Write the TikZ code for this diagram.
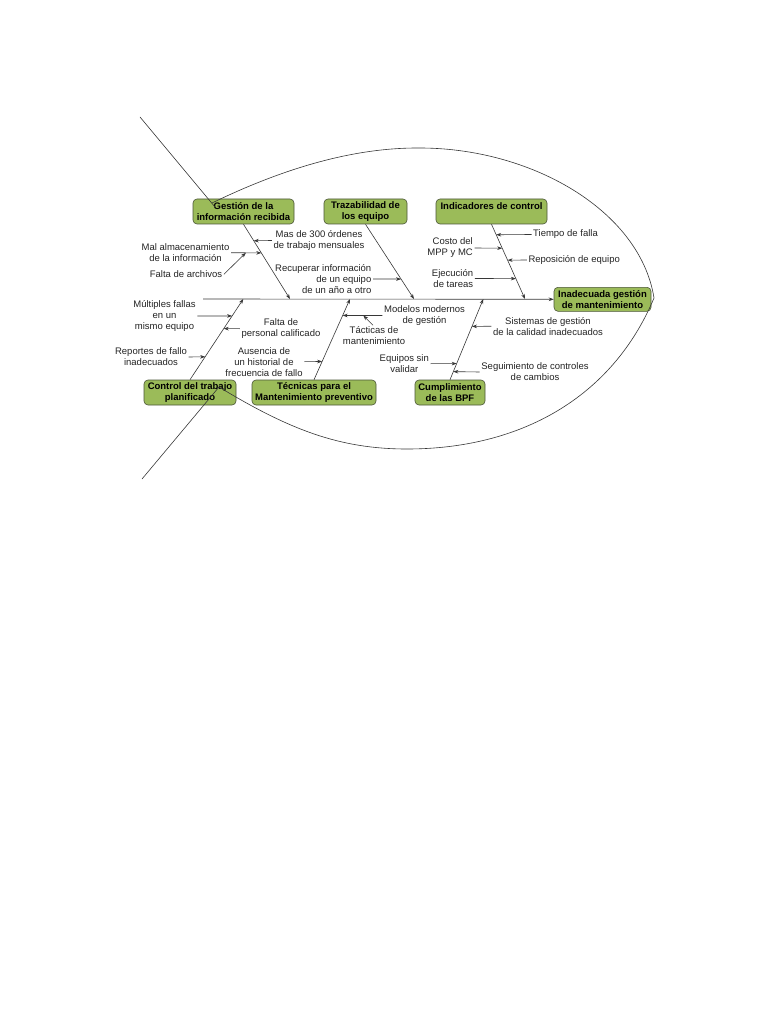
\documentclass[tikz,border=0pt]{standalone}
\usepackage{fontspec}
\setmainfont{Liberation Sans}
\usetikzlibrary{arrows.meta,calc}
\definecolor{boxfill}{RGB}{155,187,89}
\definecolor{boxdraw}{RGB}{75,85,55}
\definecolor{ln}{RGB}{55,55,55}
\definecolor{txt}{RGB}{35,35,35}
\begin{document}
\begin{tikzpicture}[x=1pt,y=-1pt,
  cause/.style={draw=boxdraw, fill=boxfill, rounded corners=4pt, line width=0.6pt,
    font=\bfseries\fontsize{9.5}{11}\selectfont, align=center, inner sep=0pt,
    minimum height=25pt, text=black},
  lbl/.style={font=\fontsize{9.5}{11}\selectfont, inner sep=1.5pt, text=txt},
  bone/.style={draw=ln, line width=0.6pt},
  arr/.style={draw=ln, line width=0.6pt, -{Stealth[length=5pt,width=3.6pt]}},
]
\useasboundingbox (0,0) rectangle (768,1024);

% cause boxes
\node[cause, minimum width=101pt] (gest) at (243.5,211.5) {Gestión de la\\información recibida};
\node[cause, minimum width=83pt] (traz) at (365.5,211.5) {Trazabilidad de\\los equipo};
\node[cause, minimum width=111pt] (indi) at (491.5,211.5) {Indicadores de control\\\mbox{}};
\node[cause, minimum width=97pt, minimum height=24pt] (head) at (602.5,299.3) {Inadecuada gestión\\de mantenimiento};
\node[cause, minimum width=92pt] (ctrl) at (190,392.5) {Control del trabajo\\planificado};
\node[cause, minimum width=124pt] (tecn) at (314,392.5) {Técnicas para el\\Mantenimiento preventivo};
\node[cause, minimum width=70pt] (cump) at (450,392.5) {Cumplimiento\\de las BPF};

% fish outline and tail
\coordinate (tailA) at (140,117);
\coordinate (tailB) at (215,207);
\coordinate (tailC) at (142,479);
\coordinate (tailD) at (219,387);
\coordinate (topS) at (212,203);
\coordinate (topM) at (417,148);
\coordinate (tip) at (654,298);
\coordinate (botM) at (407,449);
\draw[bone] (tailA) -- (tailB);
\draw[bone] (tailC) -- (tailD);
\draw[bone] (topS) .. controls (280,170) and (350,148) .. (topM)
  .. controls (530,147) and (640,210) .. (tip);
\draw[bone] (tailD) .. controls (290,430) and (340,449) .. (botM)
  .. controls (520,449) and (612,398) .. (tip);

% spine
\coordinate (spine0) at (203,299);
\draw[arr] (spine0) -- (head.west);

% points on the spine
\coordinate (s1) at (290,299);
\coordinate (s2) at (414,299);
\coordinate (s3) at (525,299);
\coordinate (s4) at (243.3,299);
\coordinate (s5) at (350,299);
\coordinate (s6) at (483.3,299);

% main bones
\draw[arr] (gest.south) -- (s1);
\draw[arr] (traz.south) -- (s2);
\draw[arr] (indi.south) -- (s3);
\draw[arr] (ctrl.north) -- (s4);
\draw[arr] (tecn.north) -- (s5);
\draw[arr] (cump.north) -- (s6);

% points on the bones
\coordinate (g1) at ($(gest.south)!0.22!(s1)$);
\coordinate (g2) at ($(gest.south)!0.383!(s1)$);
\coordinate (r1) at ($(traz.south)!0.733!(s2)$);
\coordinate (i1) at ($(indi.south)!0.14!(s3)$);
\coordinate (i2) at ($(indi.south)!0.32!(s3)$);
\coordinate (i3) at ($(indi.south)!0.48!(s3)$);
\coordinate (i4) at ($(indi.south)!0.727!(s3)$);
\coordinate (c1) at ($(ctrl.north)!0.79!(s4)$);
\coordinate (c2) at ($(ctrl.north)!0.633!(s4)$);
\coordinate (c3) at ($(ctrl.north)!0.284!(s4)$);
\coordinate (t1) at ($(tecn.north)!0.226!(s5)$);
\coordinate (t2) at ($(tecn.north)!0.796!(s5)$);
\coordinate (k1) at ($(cump.north)!0.66!(s6)$);
\coordinate (k2) at ($(cump.north)!0.2!(s6)$);
\coordinate (k3) at ($(cump.north)!0.1!(s6)$);

% labels
\node[lbl, align=center] (m300) at (319,240.5) {Mas de 300 órdenes\\de trabajo mensuales};
\node[lbl, align=center] (malalm) at (185.5,252.7) {Mal almacenamiento\\de la información};
\node[lbl] (faltaa) at (186,274.3) {Falta de archivos};
\node[lbl, align=right, anchor=east] (recup) at (373,279) {Recuperar información\\de un equipo\\de un año a otro};
\node[lbl, anchor=west] (tiempo) at (531.5,234.5) {Tiempo de falla};
\node[lbl, align=right, anchor=east] (costo) at (474.5,248) {Costo del\\MPP y MC};
\node[lbl, anchor=west] (repos) at (526.8,260) {Reposición de equipo};
\node[lbl, align=right, anchor=east] (ejec) at (474.8,278.5) {Ejecución\\de tareas};

\node[lbl, align=center] (multi) at (164.5,316) {Múltiples fallas\\en un\\mismo equipo};
\node[lbl, align=center] (faltap) at (281,328.7) {Falta de\\personal calificado};
\node[lbl, align=center] (report) at (151,357) {Reportes de fallo\\inadecuados};
\node[lbl, align=center] (ausen) at (264,361.7) {Ausencia de\\un historial de\\frecuencia de fallo};
\node[lbl, align=center] (model) at (424.5,315.5) {Modelos modernos\\de gestión};
\node[lbl, align=center] (tact) at (374,336) {Tácticas de\\mantenimiento};
\node[lbl, align=center] (sist) at (548,326.2) {Sistemas de gestión\\de la calidad inadecuados};
\node[lbl, align=center] (equip) at (404.3,363.7) {Equipos sin\\validar};
\node[lbl, align=center] (segui) at (535,372) {Seguimiento de controles\\de cambios};

% sub-cause arrows
\draw[arr] (m300.west) -- (g1);
\draw[arr] (malalm.east) -- (g2);
\coordinate (ma) at ($(malalm.east)!0.49!(g2)$);
\draw[arr] (faltaa.east) -- (ma);
\draw[arr] (recup.east) -- (r1);
\draw[arr] (tiempo.west) -- (i1);
\draw[arr] (costo.east) -- (i2);
\draw[arr] (repos.west) -- (i3);
\draw[arr] (ejec.east) -- (i4);
\draw[arr] (multi.east) -- (c1);
\draw[arr] (faltap.west) -- (c2);
\draw[arr] (report.east) -- (c3);
\draw[arr] (ausen.east) -- (t1);
\draw[arr] (model.west) -- (t2);
\coordinate (mm) at ($(t2)!0.52!(model.west)$);
\draw[arr] ([xshift=-1pt]tact.north) -- (mm);
\draw[arr] (sist.west) -- (k1);
\draw[arr] (equip.east) -- (k2);
\draw[arr] (segui.west) -- (k3);
\end{tikzpicture}
\end{document}
